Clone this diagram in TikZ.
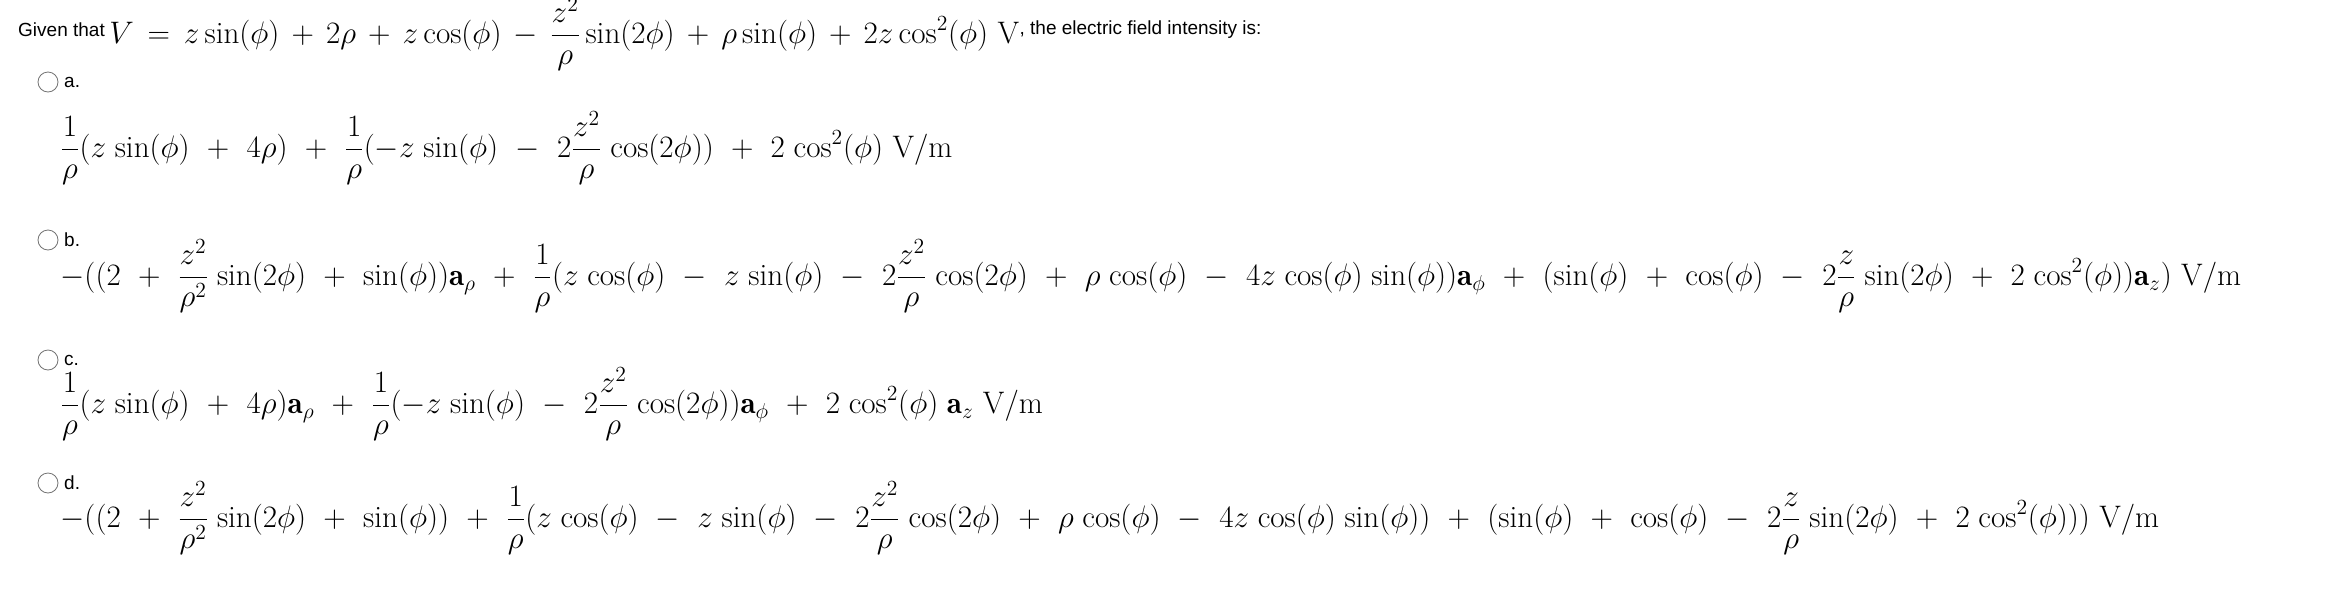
\documentclass[tikz,border=0pt]{standalone}
\usepackage{fontspec}
\setsansfont{Liberation Sans}
\newcommand\bp[1]{\bigl(#1\bigr)}
\newcommand\ab[1]{\mathbf{a}_{#1}}
\newcommand\mymathsp{\thinmuskip=5mu\relax\medmuskip=10mu\relax\thickmuskip=11mu\relax}
\newcommand\tightsp{\thinmuskip=3mu\relax\medmuskip=7mu\relax\thickmuskip=8mu\relax}
\begin{document}
\begin{tikzpicture}[x=1pt,y=-1pt,
  mth/.style={anchor=west,inner sep=0pt,scale=1.5,transform shape,font=\fontsize{20.74}{24}\selectfont\mymathsp},
  lab/.style={anchor=west,inner sep=0pt,font=\sffamily\fontsize{19}{22}\selectfont},
  radio/.style={draw=black!55,line width=0.8pt,circle,minimum size=20pt,inner sep=0pt}]
\useasboundingbox (0,0) rectangle (2335,603);
\node[lab] (g) at (18,30) {Given that};
\node[mth,font=\fontsize{20.74}{24}\selectfont\tightsp] (t) at ([xshift=4pt,yshift=-4pt]g.east) {$\displaystyle V=z\sin\bp\phi+2\rho+z\cos\bp\phi-\frac{z^2}{\rho}\sin\bp{2\phi}+\rho\sin\bp\phi+2z\cos^2\bp\phi\ \mathrm{V}$};
\node[lab] (g2) at ([yshift=4pt]t.east) {, the electric field intensity is:};
% a
\node[radio] (ra) at (48,82) {};
\node[lab] (la) at (64,82) {a.};
\node[mth] (ea) at (60,148) {$\displaystyle \frac{1}{\rho}(z\sin\bp\phi+4\rho)+\frac{1}{\rho}\Bigl(-z\sin\bp\phi-2\frac{z^2}{\rho}\cos\bp{2\phi}\Bigr)+2\cos^2\bp\phi\ \mathrm{V/m}$};
% b
\node[radio] (rb) at (48,240) {};
\node[lab] (lb) at (64,240) {b.};
\node[mth] (eb) at (60,276) {$\displaystyle -\Bigl(\Bigl(2+\frac{z^2}{\rho^2}\sin\bp{2\phi}+\sin\bp\phi\Bigr)\ab\rho+\frac{1}{\rho}\Bigl(z\cos\bp\phi-z\sin\bp\phi-2\frac{z^2}{\rho}\cos\bp{2\phi}+\rho\cos\bp\phi-4z\cos\bp\phi\sin\bp\phi\Bigr)\ab\phi+\Bigl(\sin\bp\phi+\cos\bp\phi-2\frac{z}{\rho}\sin\bp{2\phi}+2\cos^2\bp\phi\Bigr)\ab z\Bigr)\ \mathrm{V/m}$};
% c
\node[radio] (rc) at (48,360) {};
\node[lab] (lc) at (64,360) {c.};
\node[mth] (ec) at (60,404) {$\displaystyle \frac{1}{\rho}(z\sin\bp\phi+4\rho)\ab\rho+\frac{1}{\rho}\Bigl(-z\sin\bp\phi-2\frac{z^2}{\rho}\cos\bp{2\phi}\Bigr)\ab\phi+2\cos^2\bp\phi\,\ab z\ \mathrm{V/m}$};
% d
\node[radio] (rd) at (48,483) {};
\node[lab] (ld) at (64,483) {d.};
\node[mth] (ed) at (60,518) {$\displaystyle -\Bigl(\Bigl(2+\frac{z^2}{\rho^2}\sin\bp{2\phi}+\sin\bp\phi\Bigr)+\frac{1}{\rho}\Bigl(z\cos\bp\phi-z\sin\bp\phi-2\frac{z^2}{\rho}\cos\bp{2\phi}+\rho\cos\bp\phi-4z\cos\bp\phi\sin\bp\phi\Bigr)+\Bigl(\sin\bp\phi+\cos\bp\phi-2\frac{z}{\rho}\sin\bp{2\phi}+2\cos^2\bp\phi\Bigr)\Bigr)\ \mathrm{V/m}$};
\end{tikzpicture}
\end{document}
